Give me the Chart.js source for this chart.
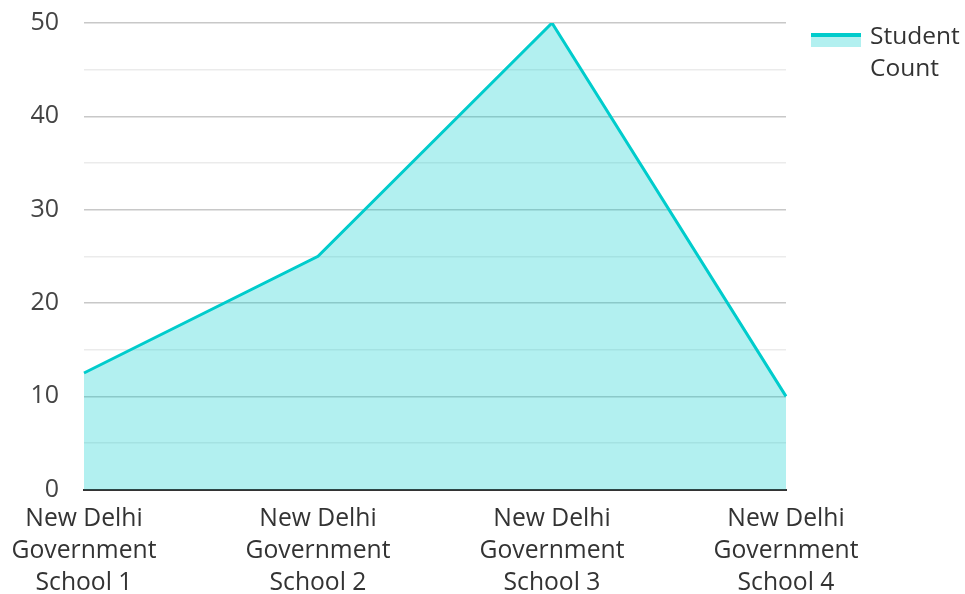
<!DOCTYPE html>
<html>
<head>
<meta charset="utf-8">
<script src="https://cdn.jsdelivr.net/npm/chart.js@4/dist/chart.umd.min.js"></script>
<style>
html,body{margin:0;padding:0;background:#fff;}
#wrap{width:965px;height:594px;position:relative;}
</style>
</head>
<body>
<div id="wrap"><canvas id="c"></canvas></div>
<script>
const categories = [
  ["New Delhi", "Government", "School 1"],
  ["New Delhi", "Government", "School 2"],
  ["New Delhi", "Government", "School 3"],
  ["New Delhi", "Government", "School 4"]
];
const seriesName = ["Student", "Count"];
const studentCount = [12.5, 25, 50, 10];
const yMin = 0, yMax = 50, yStep = 5, yLabelStep = 10;

const FONT = "'Open Sans', 'Noto Sans', sans-serif";
const LINE = 'rgb(0,204,204)';
const FILL = 'rgba(0,204,204,0.3)';

const legendPlugin = {
  id: 'customLegend',
  afterDraw(chart) {
    const ctx = chart.ctx;
    const x0 = 811, y0 = 33;
    ctx.save();
    ctx.fillStyle = FILL;
    ctx.fillRect(x0, y0, 50, 14);
    ctx.fillStyle = LINE;
    ctx.fillRect(x0, y0, 50, 4);
    ctx.fillStyle = '#333';
    ctx.font = "24.5px " + FONT;
    ctx.textBaseline = 'middle';
    ctx.textAlign = 'left';
    seriesName.forEach((t, i) => ctx.fillText(t, 870, 37 + i * 32));
    ctx.restore();
  }
};

new Chart(document.getElementById('c'), {
  type: 'line',
  data: {
    labels: categories,
    datasets: [{
      label: seriesName.join(' '),
      data: studentCount,
      borderColor: LINE,
      backgroundColor: FILL,
      borderWidth: 3,
      fill: 'origin',
      pointRadius: 0,
      tension: 0
    }]
  },
  options: {
    responsive: true,
    maintainAspectRatio: false,
    animation: false,
    layout: { padding: { top: 0, right: 179, left: 1, bottom: -18 } },
    plugins: { legend: { display: false }, tooltip: { enabled: false } },
    scales: {
      x: {
        grid: { display: false, drawTicks: false },
        border: { display: true, color: '#333', width: 2 },
        afterFit: s => { s.paddingLeft = 84; },
        ticks: {
          color: '#333', font: { family: FONT, size: 24.7, lineHeight: 1.3 },
          padding: 13, maxRotation: 0, autoSkip: false
        }
      },
      y: {
        min: yMin, max: yMax,
        border: { display: false },
        afterFit: s => { s.paddingTop = 23; },
        grid: {
          drawTicks: false,
          lineWidth: 1.5,
          color: c => c.tick.value === 0 ? 'rgba(0,0,0,0)' : (c.tick.value % yLabelStep === 0 ? '#c8c8c8' : '#ebebeb')
        },
        ticks: {
          stepSize: yStep,
          color: '#444', font: { family: FONT, size: 25 },
          padding: 25,
          callback: v => (v % yLabelStep === 0 ? v : '')
        }
      }
    }
  },
  plugins: [legendPlugin]
});
</script>
</body>
</html>
